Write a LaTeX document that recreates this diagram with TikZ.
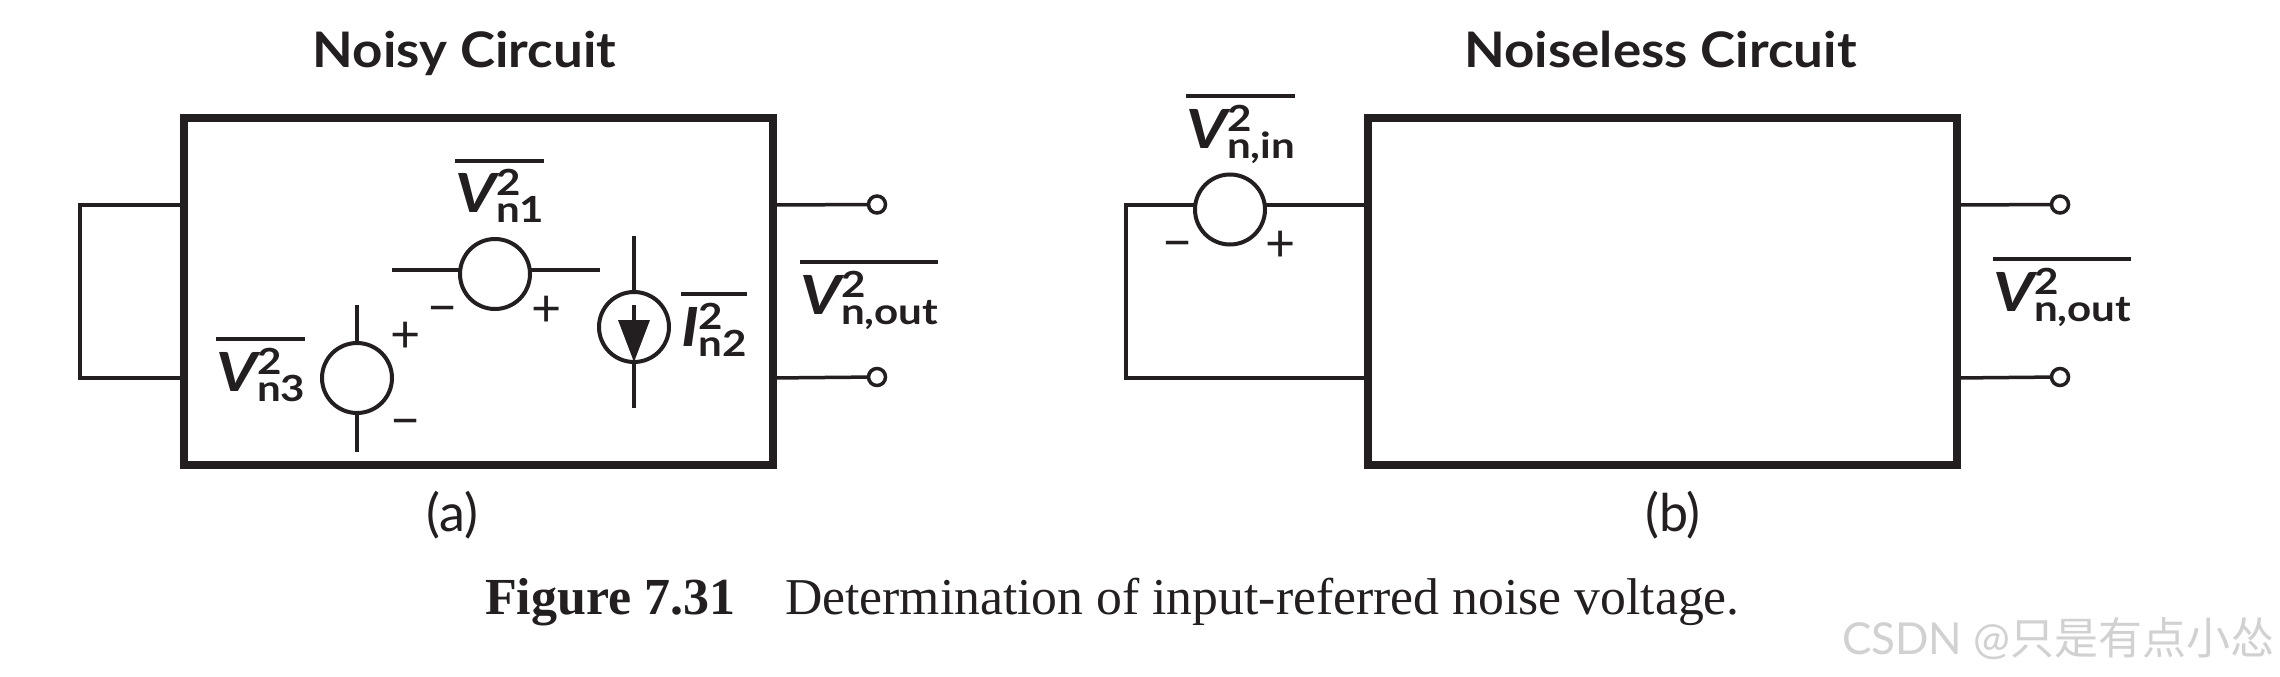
\documentclass[tikz,border=0pt]{standalone}
\usepackage{fontspec}
\setmainfont{Lato}
\newfontfamily\capfont{Liberation Serif}
\newfontfamily\cjk{Noto Sans CJK SC}
\newfontfamily\labfont[FakeStretch=1.17]{Lato}
\newfontfamily\titlefont[FakeStretch=1.08]{Lato}
\usetikzlibrary{arrows.meta}
\definecolor{ink}{HTML}{231F20}
\newcommand{\fsz}[1]{\fontsize{#1}{#1}\selectfont}
% symbol label: big italic letter, superscript 2, subscript text
\newcommand{\symlab}[2]{{\labfont\fsz{54}\bfseries\itshape #1}\rlap{\raisebox{17pt}{\labfont\fsz{36}\bfseries 2}}{\raisebox{-10pt}{\labfont\fsz{36}\bfseries #2}}}
\tikzset{
  wire/.style={line width=3.5pt,color=ink,line cap=butt},
  lead/.style={line width=4.5pt,color=ink},
  box/.style={draw=ink,line width=8pt,rectangle,inner sep=0,outer sep=0,minimum width=589pt,minimum height=347pt},
  src/.style={draw=ink,line width=4pt,circle,fill=white,inner sep=0,outer sep=0,minimum size=70pt},
  term/.style={draw=ink,line width=3.5pt,circle,fill=white,inner sep=0,outer sep=0,minimum size=17pt},
  lab/.style={anchor=base west,inner sep=0,outer sep=0,text=ink},
  bar/.style={line width=4pt,color=ink},
  sign/.style={inner sep=0,outer sep=0,text=ink,font=\fsz{52}},
  signp/.style={sign,yshift=-3pt},
  signm/.style={sign,yshift=-8pt},
  title/.style={anchor=base,inner sep=0,outer sep=0,text=ink,font=\titlefont\fsz{49}\bfseries},
  sub/.style={anchor=base,inner sep=0,outer sep=0,text=ink,font=\fsz{52}},
}
\begin{document}
\begin{tikzpicture}[x=1pt,y=-1pt]
\useasboundingbox (0,0) rectangle (2280,677);
\fill[white] (0,0) rectangle (2280,677);
% titles
\node[title] (t1) at (464.5,67) {Noisy Circuit};
\node[title] (t2) at (1660.5,67) {Noiseless Circuit};
% boxes
\node[box] (A) at (478,291.5) {};
\node[box] (B) at (1662.5,291.5) {};
% ---- circuit (a)
\coordinate (al1) at (184,205); \coordinate (al2) at (184,378);
\coordinate (alc1) at (80,205); \coordinate (alc2) at (80,378);
\draw[wire] (al1) -- (alc1) -- (alc2) -- (al2);
\coordinate (ar1) at (772,205); \coordinate (ar2) at (772,378);
\node[term] (at1) at (877,204.5) {};
\node[term] (at2) at (877,377) {};
\draw[wire] (ar1) -- (at1);
\draw[wire] (ar2) -- (at2);
% V_n1
\coordinate (v1l) at (392,270); \coordinate (v1r) at (600,270);
\draw[lead] (v1l) -- (v1r);
\node[src] (v1) at (495,274) {};
\node[signm] (v1m) at (443,308) {−};
\node[signp] (v1p) at (547,308) {+};
% V_n3
\coordinate (v3t) at (357,305); \coordinate (v3b) at (357,452);
\draw[wire] (v3t) -- (v3b);
\node[src] (v3) at (357,378) {};
\node[signp] (v3p) at (406,334) {+};
\node[signm] (v3m) at (406,421) {−};
% I_n2
\coordinate (i2t) at (634,236); \coordinate (i2b) at (634,408);
\draw[wire] (i2t) -- (i2b);
\node[src] (i2) at (634,327) {};
\coordinate (i2a) at (634,305); \coordinate (i2c) at (634,322);
\draw[wire] (i2a) -- (i2c);
\fill[ink] (618,320) -- (650,320) -- (634,362) -- cycle;
% labels (a)
\node[lab] (lv1) at (455,212) {\symlab{V}{n1}};
\draw[bar] (lv1.west |- 0,161) coordinate (b1a) -- (lv1.east |- 0,161) coordinate (b1b);
\node[lab] (lv3) at (216,391) {\symlab{V}{n3}};
\draw[bar] (lv3.west |- 0,339) -- (lv3.east |- 0,339);
\node[lab] (li2) at (681,346) {\symlab{I}{n2}};
\draw[bar] (li2.west |- 0,294) -- (li2.east |- 0,294);
\node[lab] (lo1) at (800,314) {\symlab{V}{n,out}};
\draw[bar] (lo1.west |- 0,262) -- (lo1.east |- 0,262);
\node[sub] (ca) at (452,531) {(a)};
% ---- circuit (b)
\coordinate (bl1) at (1368,205); \coordinate (bl2) at (1368,378);
\coordinate (blc1) at (1126,205); \coordinate (blc2) at (1126,378);
\draw[wire] (bl1) -- (blc1) -- (blc2) -- (bl2);
\node[src] (vi) at (1230,209.5) {};
\node[signm] (vim) at (1178,243) {−};
\node[signp] (vip) at (1281,243) {+};
\coordinate (br1) at (1957,205); \coordinate (br2) at (1957,378);
\node[term] (bt1) at (2060,204.5) {};
\node[term] (bt2) at (2060,377) {};
\draw[wire] (br1) -- (bt1);
\draw[wire] (br2) -- (bt2);
\node[lab] (lvi) at (1186,148) {\symlab{V}{n,in}};
\draw[bar] (lvi.west |- 0,96) -- (lvi.east |- 0,96);
\node[lab] (lo2) at (1993,311) {\symlab{V}{n,out}};
\draw[bar] (lo2.west |- 0,259) -- (lo2.east |- 0,259);
\node[sub] (cb) at (1673,531) {(b)};
% caption
\node[lab,font=\capfont\fsz{52}\bfseries] (fig) at (485,614) {Figure 7.31};
\node[lab,font=\capfont\fsz{51.7}] (figt) at (785,614) {Determination of input-referred noise voltage.};
% watermark
\node[lab,text=black!18,font=\fsz{44}] (wm) at (1842,654) {CSDN @{\cjk 只是有点小怂}};
\end{tikzpicture}
\end{document}
